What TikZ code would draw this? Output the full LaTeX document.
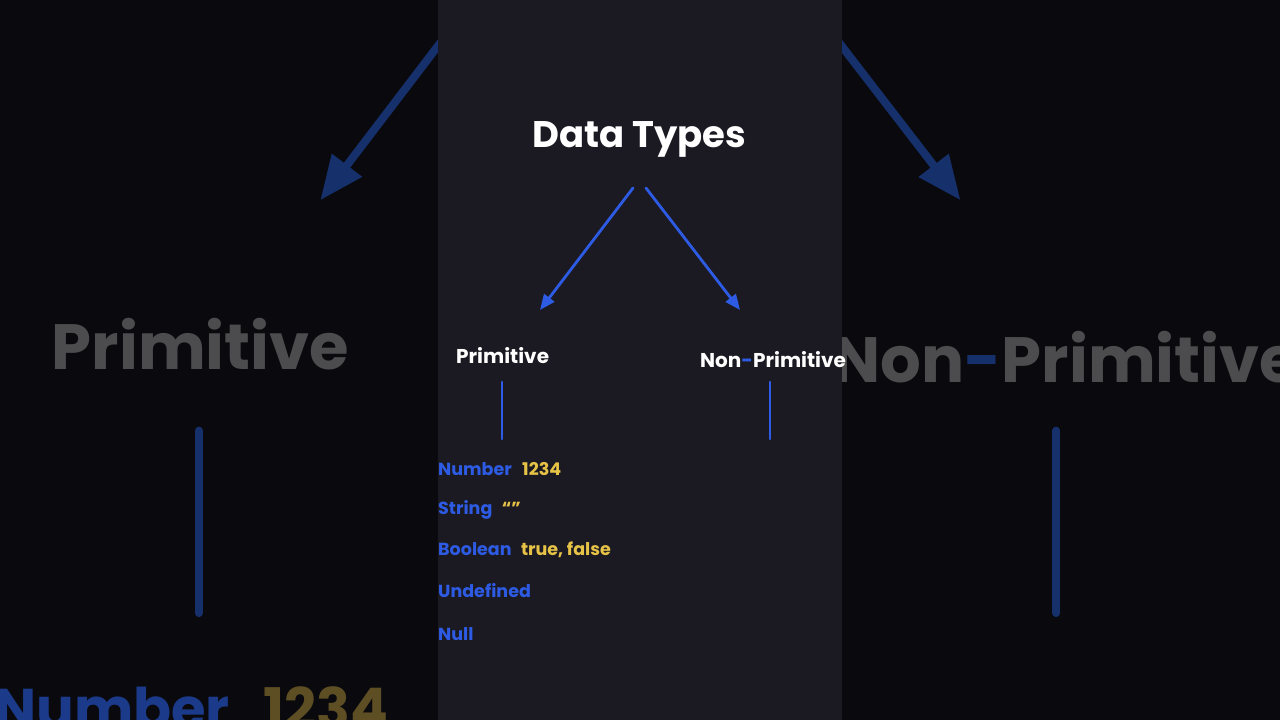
\documentclass[tikz,border=0pt]{standalone}
\usepackage{fontspec}
\setmainfont{Poppins}
\usetikzlibrary{positioning,arrows.meta}

\definecolor{sidebg}{HTML}{0A0A0E}
\definecolor{panelbg}{HTML}{1B1A22}
\definecolor{typeblue}{HTML}{2D5BE3}
\definecolor{valgold}{HTML}{E6C347}
\definecolor{dimgrey}{HTML}{4C4C4E}
\definecolor{dimblue}{HTML}{16306C}
\definecolor{dimkind}{HTML}{1B3A8A}
\definecolor{dimgold}{HTML}{5E4E24}

\begin{document}
\begin{tikzpicture}[x=1pt, y=-1pt]
    \def\lw{2.8pt}
    \tikzset{
        title/.style={text=ink, inner sep=0pt, anchor=base west, font=\bfseries\fontsize{37}{44}\selectfont},
        head/.style={text=ink, inner sep=0pt, anchor=base west, font=\bfseries\fontsize{20}{24}\selectfont},
        kind/.style={text=kindc, inner sep=0pt, anchor=base west, font=\bfseries\fontsize{17.5}{21}\selectfont},
        val/.style={text=valc, inner sep=0pt, font=\bfseries\fontsize{17.5}{21}\selectfont},
        link/.style={draw=linkc, line width=\lw, line cap=round},
        tip/.style={-{Stealth[length=0pt 5.5, width=0pt 4.5, inset=0pt]}},
    }
    \def\scene{
        \node[title] (types) at (532,147) {Data Types};
        \coordinate (pstart) at (633,188);
        \coordinate (pend) at (540,310);
        \coordinate (nstart) at (646,188);
        \coordinate (nend) at (740,310);
        \draw[link, tip] (pstart) -- (pend);
        \draw[link, tip] (nstart) -- (nend);

        \node[head] (prim) at (456,363) {Primitive};
        \node[head] (nonprim) at (700,367) {Non{\color{linkc}-}Primitive};
        \coordinate (ptop) at (502,382);
        \coordinate (pbot) at (502,439);
        \coordinate (ntop) at (770,382);
        \coordinate (nbot) at (770,439);
        \draw[link] (ptop) -- (pbot);
        \draw[link] (ntop) -- (nbot);

        \foreach \name/\kind/\y in {num/Number/475, str/String/514, bool/Boolean/555, undef/Undefined/597, null/Null/640} {
            \node[kind] (\name) at (438,\y) {\kind};
        }
        \node[val, right=10pt of num.base east, anchor=base west] (numval) {1234};
        \node[val, right=9pt of str.base east, anchor=base west] (strval) {“”};
        \node[val, right=9pt of bool.base east, anchor=base west] (boolval) {true, false};
    }

    \useasboundingbox (0,0) rectangle (1280,720);
    \fill[sidebg] (0,0) rectangle (1280,720);

    % zoomed, dimmed copy behind the panel
    \begin{scope}
        \clip (0,0) rectangle (1280,720);
        \begin{scope}[scale around={3.2:(640,360)}, transform shape]
            \def\lw{8pt}
            \colorlet{ink}{dimgrey}
            \colorlet{kindc}{dimkind}
            \colorlet{valc}{dimgold}
            \colorlet{linkc}{dimblue}
            \scene
        \end{scope}
    \end{scope}

    % the panel itself
    \fill[panelbg] (438,0) rectangle (842,720);
    \colorlet{ink}{white}
    \colorlet{kindc}{typeblue}
    \colorlet{valc}{valgold}
    \colorlet{linkc}{typeblue}
    \scene

\end{tikzpicture}
\end{document}
